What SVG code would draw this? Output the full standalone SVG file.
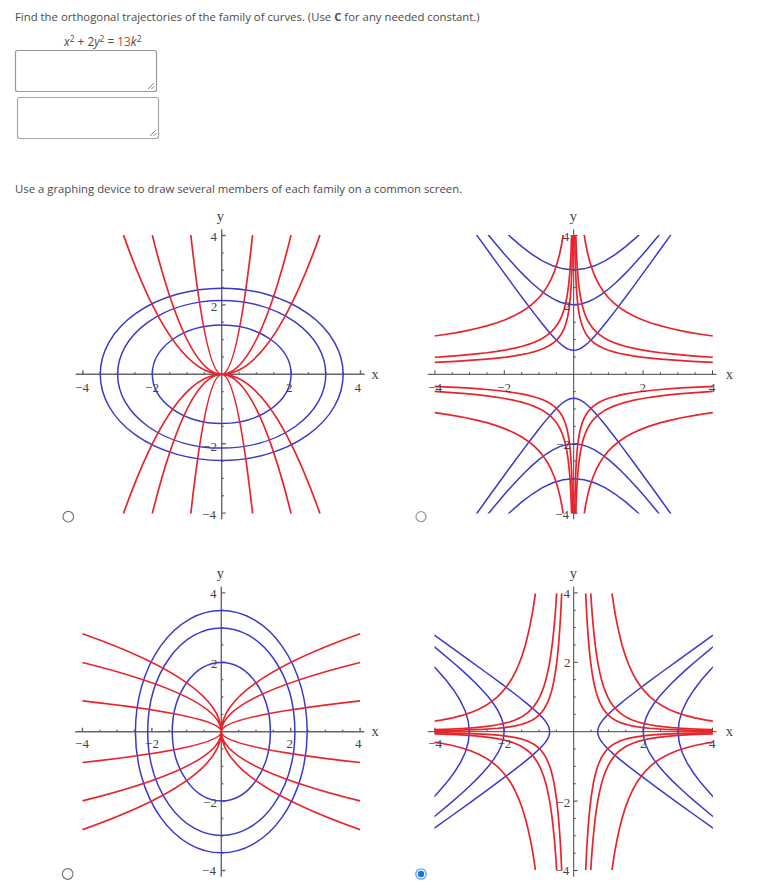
<svg xmlns="http://www.w3.org/2000/svg" xmlns:xlink="http://www.w3.org/1999/xlink" width="757" height="892" viewBox="0 0 757 892">
<style>
text{font-family:"Open Sans","Liberation Sans",sans-serif;fill:#4a4a4a}
.q{font-size:11.35px}
.eq{font-size:11.8px}
.sup{font-size:8.5px}
.t{font-family:"Liberation Serif",serif;font-size:13px;fill:#444;text-anchor:middle}
.v{font-family:"Liberation Serif",serif;font-size:14.5px;fill:#444;text-anchor:middle}
path,ellipse{fill:none;vector-effect:non-scaling-stroke}
.red{stroke:#e8232c;stroke-width:1.7;stroke-linejoin:round}
.blue{stroke:#3a3ac8;stroke-width:1.5}
.ax1{stroke:#666;stroke-width:1.4;fill:none}
.ax2{stroke:#444;stroke-width:1;fill:none}
.box{fill:#fff;stroke:#a8a8a8;stroke-width:1.2}
.grip{stroke:#777;stroke-width:.9;fill:none}
.radio{fill:#fff;stroke:#777;stroke-width:1.2}
</style>
<defs>
<clipPath id="clip"><rect x="-4" y="-4" width="8" height="8"/></clipPath>
<path id="axes" d="M-146 0H143M0-145V145M-138.800-0v-4M-121.450 0v-2M-104.100 0v-2M-86.750 0v-2M-69.400 0v-4M-52.050 0v-2M-34.700 0v-2M-17.350 0v-2M17.350 0v-2M34.700 0v-2M52.050 0v-2M69.400 0v-4M86.750 0v-2M104.100 0v-2M121.450 0v-2M138.800 0v-4M0-138.800h4M0-121.450h2M0-104.100h2M0-86.750h2M0-69.400h4M0-52.050h2M0-34.700h2M0-17.350h2M0 17.350h2M0 34.700h2M0 52.050h2M0 69.400h4M0 86.750h2M0 104.100h2M0 121.450h2M0 138.800h4"/>
<g id="famEllipse">
<g class="blue">
<ellipse rx="2" ry="1.414"/>
<ellipse rx="3" ry="2.121"/>
<ellipse rx="3.5" ry="2.475"/>
</g>
<path class="red" d="M-.89 4Q-.445 0 0 0Q.445 0 .89 4M-.89-4Q-.445 0 0 0Q.445 0 .89-4M-2 4Q-1 0 0 0Q1 0 2 4M-2-4Q-1 0 0 0Q1 0 2-4M-2.83 4Q-1.415 0 0 0Q1.415 0 2.83 4M-2.83-4Q-1.415 0 0 0Q1.415 0 2.83-4"/>
</g>
<path id="hyp" d="M-4.5 6.442L-4 5.745L-3.5 5.050L-3 4.359L-2.5 3.674L-2 3L-1.8 2.735L-1.6 2.474L-1.4 2.218L-1.2 1.970L-1 1.732L-.9 1.619L-.8 1.510L-.7 1.407L-.6 1.312L-.5 1.225L-.4 1.149L-.3 1.086L-.2 1.039L-.1 1.010L0 1L.1 1.010L.2 1.039L.3 1.086L.4 1.149L.5 1.225L.6 1.312L.7 1.407L.8 1.510L.9 1.619L1 1.732L1.2 1.970L1.4 2.218L1.6 2.474L1.8 2.735L2 3L2.5 3.674L3 4.359L3.500 5.050L4 5.745L4.500 6.442"/>
<path id="arm" d="M.02 7.071L.025 6.325L.03 5.774L.035 5.345L.04 5L.05 4.472L.06 4.082L.07 3.780L.085 3.430L.1 3.162L.12 2.887L.14 2.673L.17 2.425L.2 2.236L.24 2.041L.28 1.890L.34 1.715L.4 1.581L.47 1.459L.55 1.348L.65 1.240L.75 1.155L.87 1.072L1 1L1.15 .933L1.3 .877L1.5 .816L1.7 .767L1.95 .716L2.2 .674L2.5 .632L2.8 .598L3.1 .568L3.400 .542L3.7 .520L4 .5"/>
<g id="famHyper" clip-path="url(#clip)">
<g class="blue">
<use href="#hyp" transform="scale(.69 .69)"/>
<use href="#hyp" transform="scale(.69 -.69)"/>
<use href="#hyp" transform="scale(2 2)"/>
<use href="#hyp" transform="scale(2 -2)"/>
<use href="#hyp" transform="scale(3 3)"/>
<use href="#hyp" transform="scale(3 -3)"/>
</g>
<g class="red">
<use href="#arm" transform="scale(1 .69)"/>
<use href="#arm" transform="scale(-1 .69)"/>
<use href="#arm" transform="scale(1 -.69)"/>
<use href="#arm" transform="scale(-1 -.69)"/>
<use href="#arm" transform="scale(1 .98)"/>
<use href="#arm" transform="scale(-1 .98)"/>
<use href="#arm" transform="scale(1 -.98)"/>
<use href="#arm" transform="scale(-1 -.98)"/>
<use href="#arm" transform="scale(1 2.2)"/>
<use href="#arm" transform="scale(-1 2.2)"/>
<use href="#arm" transform="scale(1 -2.2)"/>
<use href="#arm" transform="scale(-1 -2.2)"/>
</g>
</g>
</defs>

<g id="question">
<text class="q" x="15" y="21">Find the orthogonal trajectories of the family of curves. (Use <tspan font-weight="700">C</tspan> for any needed constant.)</text>
<text class="eq" x="64" y="46"><tspan font-style="italic">x</tspan><tspan class="sup" dy="-4">2</tspan><tspan dy="4"> + 2</tspan><tspan font-style="italic">y</tspan><tspan class="sup" dy="-4">2</tspan><tspan dy="4"> = </tspan><tspan fill="#e0303a">13</tspan><tspan font-style="italic">k</tspan><tspan class="sup" dy="-4">2</tspan></text>
<text class="q" x="15" y="193">Use a graphing device to draw several members of each family on a common screen.</text>
</g>
<g id="answer-box-1">
<rect class="box" x="15.500" y="50.500" width="141" height="41" rx="2" style="stroke:#999"/>
<path class="grip" d="M148 89l6-6M151.500 89l3-3"/>
</g>
<g id="answer-box-2">
<rect class="box" x="17.500" y="97.500" width="141" height="41" rx="2"/>
<path class="grip" d="M150 136l6-6M153.500 136l3-3"/>
</g>

<g id="plot-a">
<use href="#axes" class="ax1" transform="translate(221.700 374.300)"/>
<use href="#famEllipse" transform="matrix(34.7 0 0 -34.8 221.700 374.300)"/>
<text class="v" x="220.300" y="221">y</text><text class="v" x="375" y="379">x</text>
<text class="t" x="82" y="392">−4</text><text class="t" x="152" y="392">−2</text><text class="t" x="289.300" y="392">2</text><text class="t" x="357.700" y="392">4</text>
<text class="t" x="213.700" y="241">4</text><text class="t" x="214" y="311">2</text><text class="t" x="210" y="451">−2</text><text class="t" x="209" y="519">−4</text>
</g>
<g id="plot-b">
<use href="#axes" class="ax2" transform="translate(573.700 374.300)"/>
<use href="#famHyper" transform="matrix(34.8 0 0 -34.8 573.700 374.300)"/>
<text class="v" x="573.300" y="221">y</text><text class="v" x="729.300" y="379">x</text>
<text class="t" x="435" y="392">−4</text><text class="t" x="504" y="392">−2</text><text class="t" x="642.700" y="392">2</text><text class="t" x="712.300" y="392">4</text>
<text class="t" x="566" y="241">4</text><text class="t" x="567.300" y="310">2</text><text class="t" x="563" y="449">−2</text><text class="t" x="562" y="519">−4</text>
</g>
<g id="plot-c">
<use href="#axes" class="ax1" transform="translate(221.300 731.700)"/>
<use href="#famEllipse" transform="matrix(0 -34.6 34.7 0 221.300 731.700)"/>
<text class="v" x="220.300" y="578">y</text><text class="v" x="375" y="736">x</text>
<text class="t" x="82" y="748">−4</text><text class="t" x="152" y="748">−2</text><text class="t" x="289.700" y="748">2</text><text class="t" x="358.300" y="748">4</text>
<text class="t" x="213.300" y="598">4</text><text class="t" x="214.300" y="668">2</text><text class="t" x="210" y="807">−2</text><text class="t" x="209" y="875">−4</text>
</g>
<g id="plot-d">
<use href="#axes" class="ax2" transform="translate(573.700 731.700)"/>
<use href="#famHyper" transform="matrix(0 -34.6 34.8 0 573.700 731.700)"/>
<text class="v" x="573.300" y="578">y</text><text class="v" x="729.300" y="736">x</text>
<text class="t" x="435" y="748">−4</text><text class="t" x="504.300" y="748">−2</text><text class="t" x="643.300" y="748">2</text><text class="t" x="712.300" y="748">4</text>
<text class="t" x="566.700" y="598">4</text><text class="t" x="567.300" y="667">2</text><text class="t" x="563.300" y="807">−2</text><text class="t" x="562.300" y="875">−4</text>
</g>
<g id="radio-a"><circle class="radio" cx="68.300" cy="516.700" r="5.300"/></g>
<g id="radio-b"><circle class="radio" cx="421" cy="516.700" r="5" style="stroke:#999"/></g>
<g id="radio-c"><circle class="radio" cx="67.700" cy="874" r="5.300"/></g>
<g id="radio-d"><circle cx="421" cy="874" r="5.200" fill="#fff" stroke="#5aa4ee" stroke-width="1.300"/><circle cx="421" cy="874" r="3.200" fill="#1a73e8"/></g>
</svg>
